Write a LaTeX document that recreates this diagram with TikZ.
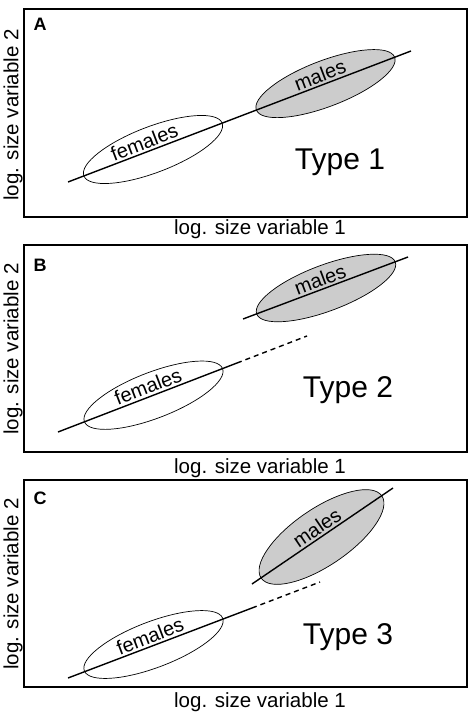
\documentclass[tikz,border=0pt]{standalone}
\usepackage{fontspec}
\setmainfont{Liberation Sans}
\usetikzlibrary{shapes.geometric}
\tikzset{font=\fontsize{20}{22}\selectfont}
\tikzset{every node/.append style={inner sep=2pt}}

\begin{document}
\begin{tikzpicture}[x=1pt,y=-1pt,
  sex/.style={draw,ellipse,line width=.7pt,inner sep=0pt,
    minimum width=148pt,minimum height=46pt},
  male/.style={sex,fill=black!20},
  regline/.style={line width=1.4pt},
  extline/.style={line width=1.4pt,dash pattern=on 5pt off 4pt},
  frame/.style={line width=1.5pt},
  panel/.style={font=\fontsize{18}{20}\selectfont\bfseries},
  typelabel/.style={font=\fontsize{30}{32}\selectfont},
  axislabel/.style={font=\fontsize{20.5}{22}\selectfont}]
  \useasboundingbox (0,0) rectangle (470,714);

  % A
  \draw[frame] (24,9) rectangle (467,217);
  \node[panel] (pA) at (40,24) {A};
  \node[axislabel] (xA) at (260,229) {log. size variable 1};
  \node[axislabel,rotate=90] (yA) at (13,115) {log. size variable 2};
  \node[sex,rotate=20.9] (fA) at (153,149.5) {};
  \node[male,rotate=20.9] (mA) at (325.5,83.6) {};
  \coordinate (a0) at (68,182);
  \coordinate (a1) at (411,51);
  \draw[regline] (a0) -- node[pos=.233,above,sloped] {females}
    node[pos=.745,above,sloped] {males} (a1);
  \node[typelabel] (tA) at (340,162) {Type 1};

  % B
  \draw[frame] (24,245) rectangle (467,452);
  \node[panel] (pB) at (40,265) {B};
  \node[axislabel] (xB) at (260,468) {log. size variable 1};
  \node[axislabel,rotate=90] (yB) at (13,349) {log. size variable 2};
  \node[sex,rotate=21.06] (fB) at (153.5,395.2) {};
  \node[male,rotate=20.6] (mB) at (326,288) {};
  \coordinate (b0) at (58,432);
  \coordinate (b1) at (237,363);
  \coordinate (b2) at (307,336);
  \coordinate (b3) at (243,319);
  \coordinate (b4) at (408,257);
  \draw[regline] (b0) -- node[pos=.523,above,sloped] {females} (b1);
  \draw[extline] (b1) -- (b2);
  \draw[regline] (b3) -- node[pos=.488,above,sloped] {males} (b4);
  \node[typelabel] (tB) at (348,390) {Type 2};

  % C
  \draw[frame] (24,480) rectangle (467,687);
  \node[panel] (pC) at (40,498) {C};
  \node[axislabel] (xC) at (260,702) {log. size variable 1};
  \node[axislabel,rotate=90] (yC) at (13,584) {log. size variable 2};
  \node[sex,rotate=20.8] (fC) at (153.5,644.5) {};
  \node[male,rotate=34.25,minimum width=146pt,minimum height=57pt] (mC) at (321.5,537) {};
  \coordinate (c0) at (68,678);
  \coordinate (c1) at (252,608);
  \coordinate (c2) at (320,582);
  \coordinate (c3) at (252,584);
  \coordinate (c4) at (393,488);
  \draw[regline] (c0) -- node[pos=.465,above,sloped] {females} (c1);
  \draw[extline] (c1) -- (c2);
  \draw[regline] (c3) -- node[pos=.5,above,sloped] {males} (c4);
  \node[typelabel] (tC) at (348,637) {Type 3};
\end{tikzpicture}
\end{document}
